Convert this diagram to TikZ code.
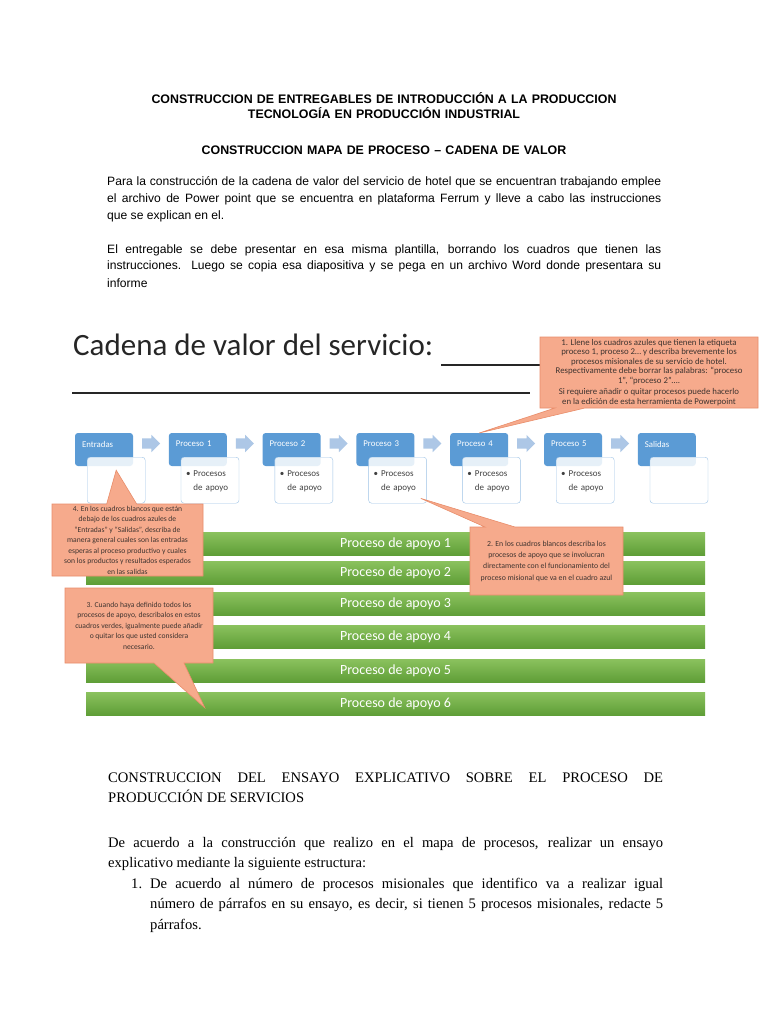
\documentclass[tikz,border=0pt]{standalone}
\usepackage{fontspec}
\setmainfont{Liberation Sans}
\newfontfamily\slidefont{Carlito}
\newfontfamily\essayfont{Liberation Serif}
\usepackage{xcolor}
\usetikzlibrary{arrows.meta,positioning,shapes.arrows,shapes.callouts}
\definecolor{stepblue}{HTML}{5B9BD5}
\definecolor{subline}{HTML}{9DC3E6}
\definecolor{chevblue}{HTML}{ADC7E6}
\definecolor{bartop}{HTML}{8BC25E}
\definecolor{barbot}{HTML}{5F9E37}
\definecolor{notefill}{HTML}{F6AA8C}
\definecolor{noteline}{HTML}{E98D6A}
\definecolor{notetext}{HTML}{3F3430}
\hyphenpenalty=10000
\exhyphenpenalty=10000

\begin{document}
\begin{tikzpicture}[x=1pt, y=-1pt,
      node distance=35.8pt,
      hdr/.style={anchor=base, text width=554pt, align=center, inner sep=0pt, font=\fontsize{12.4}{15.5}\selectfont\bfseries},
      para/.style={anchor=base west, text width=554pt, align=justify, inner sep=0pt, font=\fontsize{12.1}{17}\selectfont},
      essay/.style={anchor=base west, align=justify, inner sep=0pt, font=\essayfont\fontsize{14.6}{20.5}\selectfont},
      stepbox/.style={fill=stepblue, rounded corners=3pt, minimum width=58pt, minimum height=33pt, text width=44pt, text depth=11pt, align=left, inner sep=0pt, outer sep=0pt, text=white, font=\slidefont\fontsize{8.8}{10}\selectfont},
      subbox/.style={draw=subline, fill=white, fill opacity=0.85, text opacity=1, rounded corners=3pt, minimum width=58pt, minimum height=46pt, text width=48pt, text height=9pt, align=left, inner sep=0pt, anchor=north west, text=black!75, font=\slidefont\fontsize{9}{14}\selectfont},
      chev/.style={single arrow, fill=chevblue, minimum height=18pt, minimum width=17pt, single arrow head extend=3.5pt, inner xsep=0pt, inner ysep=5pt, outer sep=0pt},
      bar/.style={top color=bartop, bottom color=barbot, minimum width=619pt, minimum height=23pt, inner sep=0pt, text=white, font=\slidefont\fontsize{14}{16}\selectfont},
      note/.style={rectangle callout, fill=notefill, draw=noteline, line width=0.6pt, callout pointer width=30pt, align=center, inner sep=0pt, text=notetext, font=\slidefont\fontsize{7.6}{10.5}\selectfont},
      rule/.style={draw=black!85, line width=1.3pt}]
    \useasboundingbox (0,0) rectangle (768,1024);
    \fill[white] (0,0) rectangle (768,1024);

    \node[hdr] (t1) at (384,103.5) {CONSTRUCCION DE ENTREGABLES DE INTRODUCCIÓN A LA PRODUCCION\\TECNOLOGÍA EN PRODUCCIÓN INDUSTRIAL};
    \node[hdr] (t2) at (384,155) {CONSTRUCCION MAPA DE PROCESO – CADENA DE VALOR};
    \node[para] (par1) at (107,186) {Para la construcción de la cadena de valor del servicio de hotel que se encuentran trabajando emplee\linebreak el archivo de Power point que se encuentra en plataforma Ferrum y lleve a cabo las instrucciones\linebreak que se explican en el.};
    \node[para] (par2) at (107,253) {El entregable se debe presentar en esa misma plantilla, borrando los cuadros que tienen las\linebreak instrucciones. Luego se copia esa diapositiva y se pega en un archivo Word donde presentara su\linebreak informe};

    \node[anchor=base west, inner sep=0pt, text=black!85, font=\slidefont\fontsize{31}{36}\selectfont] (slide) at (73,355) {Cadena de valor del servicio:};
    \draw[rule] (441,365) -- (540,365);
    \draw[rule] (72,393) -- (530,393);

    \node[stepbox, anchor=north west] (ent) at (75,433) {Entradas};
    \node[stepbox, right=of ent] (p1) {Proceso 1};
    \node[stepbox, right=of p1] (p2) {Proceso 2};
    \node[stepbox, right=of p2] (p3) {Proceso 3};
    \node[stepbox, right=of p3] (p4) {Proceso 4};
    \node[stepbox, right=of p4] (p5) {Proceso 5};
    \node[stepbox, right=of p5] (sal) {Salidas};
    \node[subbox] (ent-s) at ([xshift=12pt, yshift=9pt]ent.south west) {};
    \node[subbox] (p1-s) at ([xshift=12pt, yshift=9pt]p1.south west) {\textbullet\ Procesos\\\phantom{\textbullet\ }de apoyo};
    \node[subbox] (p2-s) at ([xshift=12pt, yshift=9pt]p2.south west) {\textbullet\ Procesos\\\phantom{\textbullet\ }de apoyo};
    \node[subbox] (p3-s) at ([xshift=12pt, yshift=9pt]p3.south west) {\textbullet\ Procesos\\\phantom{\textbullet\ }de apoyo};
    \node[subbox] (p4-s) at ([xshift=12pt, yshift=9pt]p4.south west) {\textbullet\ Procesos\\\phantom{\textbullet\ }de apoyo};
    \node[subbox] (p5-s) at ([xshift=12pt, yshift=9pt]p5.south west) {\textbullet\ Procesos\\\phantom{\textbullet\ }de apoyo};
    \node[subbox] (sal-s) at ([xshift=12pt, yshift=9pt]sal.south west) {};
    \node[chev, right=9pt of ent.east, yshift=6pt] (c1) {};
    \node[chev, right=9pt of p1.east, yshift=6pt] (c2) {};
    \node[chev, right=9pt of p2.east, yshift=6pt] (c3) {};
    \node[chev, right=9pt of p3.east, yshift=6pt] (c4) {};
    \node[chev, right=9pt of p4.east, yshift=6pt] (c5) {};
    \node[chev, right=9pt of p5.east, yshift=6pt] (c6) {};

    \node[bar] (s1) at (395.5,543.5) {Proceso de apoyo 1};
    \node[bar] (s2) at (395.5,572.5) {Proceso de apoyo 2};
    \node[bar] (s3) at (395.5,604) {Proceso de apoyo 3};
    \node[bar] (s4) at (395.5,636.5) {Proceso de apoyo 4};
    \node[bar] (s5) at (395.5,670.5) {Proceso de apoyo 5};
    \node[bar] (s6) at (395.5,703.5) {Proceso de apoyo 6};

    \node[note, minimum width=218pt, minimum height=71pt, font=\slidefont\fontsize{8.8}{9.5}\selectfont, callout absolute pointer={(p4.north)}] (n1) at (649,372.5) {1. Llene los cuadros azules que tienen la etiqueta\\proceso 1, proceso 2… y describa brevemente los\\procesos misionales de su servicio de hotel.\\Respectivamente debe borrar las palabras: “proceso\\1”, “proceso 2”….\\[2pt]Si requiere añadir o quitar procesos puede hacerlo\\en la edición de esta herramienta de Powerpoint};
    \node[note, minimum width=151pt, minimum height=72pt, callout absolute pointer={([yshift=10pt]ent-s.center)}] (n4) at (127.5,540) {4. En los cuadros blancos que están\\debajo de los cuadros azules de\\“Entradas” y “Salidas”, describa de\\manera general cuales son las entradas\\esperas al proceso productivo y cuales\\son los productos y resultados esperados\\en las salidas};
    \node[note, minimum width=153pt, minimum height=68pt, font=\slidefont\fontsize{7.8}{11.3}\selectfont, callout absolute pointer={([xshift=-6pt, yshift=5pt]p3-s.south east)}] (n2) at (546.5,561) {2. En los cuadros blancos describa los\\procesos de apoyo que se involucran\\directamente con el funcionamiento del\\proceso misional que va en el cuadro azul};
    \node[note, minimum width=148pt, minimum height=75pt, callout absolute pointer={([xshift=119pt, yshift=-16pt]s6.north west)}] (n3) at (139,625.5) {3. Cuando haya definido todos los\\procesos de apoyo, describalos en estos\\cuadros verdes, igualmente puede añadir\\o quitar los que usted considera\\necesario.};

    \node[essay, text width=555pt] (e1) at (108,782) {CONSTRUCCION DEL ENSAYO EXPLICATIVO SOBRE EL PROCESO DE\linebreak PRODUCCIÓN DE SERVICIOS};
    \node[essay, text width=555pt] (e2) at (108,847) {De acuerdo a la construcción que realizo en el mapa de procesos, realizar un ensayo\linebreak explicativo mediante la siguiente estructura:};
    \node[essay] (e3n) at (131,888) {1.};
    \node[essay, text width=513pt] (e3) at (150,888) {De acuerdo al número de procesos misionales que identifico va a realizar igual\linebreak número de párrafos en su ensayo, es decir, si tienen 5 procesos misionales, redacte 5\linebreak párrafos.};
  \end{tikzpicture}
\end{document}
